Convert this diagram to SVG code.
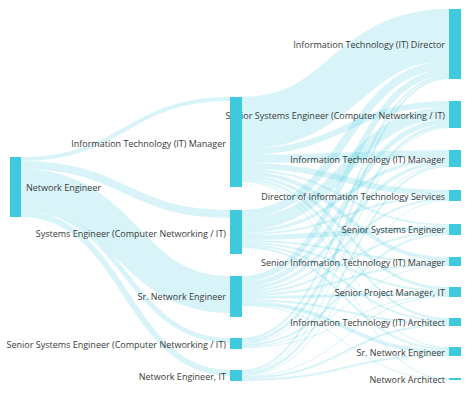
<svg xmlns="http://www.w3.org/2000/svg" width="474" height="399" viewBox="0 0 474 399">
<style>
.l{fill:none;stroke:#3cc8de;stroke-opacity:0.2}
.n{fill:#3ec9dd}
.t{font-family:"Open Sans","DejaVu Sans",sans-serif;font-size:9px;fill:#3a3a3a;dominant-baseline:central}
.e{text-anchor:end}
</style>
<rect width="474" height="399" fill="#ffffff"/>
<g id="links">
<path class="l" stroke-width="4" d="M21,159 C125.5,159 125.5,99 230,99"/>
<path class="l" stroke-width="8" d="M21,165 C125.5,165 125.5,214 230,214"/>
<path class="l" stroke-width="37" d="M21,187.5 C125.5,187.5 125.5,294.5 230,294.5"/>
<path class="l" stroke-width="5" d="M21,208.5 C125.5,208.5 125.5,340.5 230,340.5"/>
<path class="l" stroke-width="6" d="M21,214 C125.5,214 125.5,373 230,373"/>

<path class="l" stroke-width="52" d="M242,123 C345.5,123 345.5,35 449,35"/>
<path class="l" stroke-width="6" d="M242,152 C345.5,152 345.5,104 449,104"/>
<path class="l" stroke-width="8" d="M242,159 C345.5,159 345.5,154 449,154"/>
<path class="l" stroke-width="6" d="M242,166 C345.5,166 345.5,193 449,193"/>
<path class="l" stroke-width="2" d="M242,170 C345.5,170 345.5,225 449,225"/>
<path class="l" stroke-width="4" d="M242,173 C345.5,173 345.5,259 449,259"/>
<path class="l" stroke-width="3" d="M242,176.5 C345.5,176.5 345.5,288.5 449,288.5"/>
<path class="l" stroke-width="2" d="M242,179 C345.5,179 345.5,319 449,319"/>
<path class="l" stroke-width="1" d="M242,180.5 C345.5,180.5 345.5,347.5 449,347.5"/>
<path class="l" stroke-width="1" d="M242,181.5 C345.5,181.5 345.5,378.5 449,378.5"/>

<path class="l" stroke-width="8" d="M242,214 C345.5,214 345.5,65 449,65"/>
<path class="l" stroke-width="12" d="M242,224 C345.5,224 345.5,113 449,113"/>
<path class="l" stroke-width="3" d="M242,231.5 C345.5,231.5 345.5,159.5 449,159.5"/>
<path class="l" stroke-width="2" d="M242,234 C345.5,234 345.5,197 449,197"/>
<path class="l" stroke-width="5" d="M242,237.5 C345.5,237.5 345.5,228.5 449,228.5"/>
<path class="l" stroke-width="2" d="M242,241 C345.5,241 345.5,262 449,262"/>
<path class="l" stroke-width="2" d="M242,243 C345.5,243 345.5,291 449,291"/>
<path class="l" stroke-width="2" d="M242,245 C345.5,245 345.5,321 449,321"/>
<path class="l" stroke-width="2" d="M242,247 C345.5,247 345.5,349 449,349"/>

<path class="l" stroke-width="6" d="M242,279 C345.5,279 345.5,72 449,72"/>
<path class="l" stroke-width="5" d="M242,284.5 C345.5,284.5 345.5,121.5 449,121.5"/>
<path class="l" stroke-width="3" d="M242,288.5 C345.5,288.5 345.5,162.5 449,162.5"/>
<path class="l" stroke-width="2" d="M242,291 C345.5,291 345.5,199 449,199"/>
<path class="l" stroke-width="2" d="M242,293 C345.5,293 345.5,232 449,232"/>
<path class="l" stroke-width="2" d="M242,295 C345.5,295 345.5,264 449,264"/>
<path class="l" stroke-width="3" d="M242,297.5 C345.5,297.5 345.5,293.5 449,293.5"/>
<path class="l" stroke-width="2" d="M242,300 C345.5,300 345.5,323 449,323"/>
<path class="l" stroke-width="4" d="M242,303 C345.5,303 345.5,352 449,352"/>
<path class="l" stroke-width="1" d="M242,305.5 C345.5,305.5 345.5,379.5 449,379.5"/>

<path class="l" stroke-width="2" d="M242,339 C345.5,339 345.5,76 449,76"/>
<path class="l" stroke-width="3" d="M242,341.5 C345.5,341.5 345.5,125.5 449,125.5"/>
<path class="l" stroke-width="1" d="M242,343.5 C345.5,343.5 345.5,164.5 449,164.5"/>
<path class="l" stroke-width="2" d="M242,345 C345.5,345 345.5,234 449,234"/>
<path class="l" stroke-width="1" d="M242,346.5 C345.5,346.5 345.5,265.5 449,265.5"/>
<path class="l" stroke-width="1" d="M242,347.5 C345.5,347.5 345.5,295.5 449,295.5"/>

<path class="l" stroke-width="2" d="M242,371 C345.5,371 345.5,78 449,78"/>
<path class="l" stroke-width="1" d="M242,372.5 C345.5,372.5 345.5,127.5 449,127.5"/>
<path class="l" stroke-width="2" d="M242,374 C345.5,374 345.5,166 449,166"/>
<path class="l" stroke-width="1" d="M242,375.5 C345.5,375.5 345.5,200.5 449,200.5"/>
<path class="l" stroke-width="1" d="M242,376.5 C345.5,376.5 345.5,296.5 449,296.5"/>
<path class="l" stroke-width="2" d="M242,378 C345.5,378 345.5,325 449,325"/>
<path class="l" stroke-width="2" d="M242,380 C345.5,380 345.5,355 449,355"/>
</g>

<g id="t-it-director"><text class="t e" x="445" y="44">Information Technology (IT) Director</text><rect class="n" x="449" y="9" width="12" height="70"/></g>
<g id="t-senior-sys-eng-cn"><text class="t e" x="445" y="115">Senior Systems Engineer (Computer Networking / IT)</text><rect class="n" x="449" y="101" width="12" height="27"/></g>
<g id="t-it-manager"><text class="t e" x="445" y="159">Information Technology (IT) Manager</text><rect class="n" x="449" y="150" width="12" height="17"/></g>
<g id="t-director-its"><text class="t e" x="445" y="196">Director of Information Technology Services</text><rect class="n" x="449" y="190" width="12" height="11"/></g>
<g id="t-senior-sys-eng"><text class="t e" x="445" y="229">Senior Systems Engineer</text><rect class="n" x="449" y="224" width="12" height="11"/></g>
<g id="t-senior-it-manager"><text class="t e" x="445" y="262">Senior Information Technology (IT) Manager</text><rect class="n" x="449" y="257" width="12" height="9"/></g>
<g id="t-senior-pm-it"><text class="t e" x="445" y="292">Senior Project Manager, IT</text><rect class="n" x="449" y="287" width="12" height="10"/></g>
<g id="t-it-architect"><text class="t e" x="445" y="322">Information Technology (IT) Architect</text><rect class="n" x="449" y="318" width="12" height="8"/></g>
<g id="t-sr-network-engineer"><text class="t e" x="445" y="352">Sr. Network Engineer</text><rect class="n" x="449" y="347" width="12" height="9"/></g>
<g id="t-network-architect"><text class="t e" x="445" y="379">Network Architect</text><rect class="n" x="449" y="378" width="12" height="2"/></g>

<g id="m-it-manager"><text class="t e" x="226" y="143">Information Technology (IT) Manager</text><rect class="n" x="230" y="97" width="12" height="90"/></g>
<g id="m-systems-engineer-cn"><text class="t e" x="226" y="233">Systems Engineer (Computer Networking / IT)</text><rect class="n" x="230" y="210" width="12" height="44"/></g>
<g id="m-sr-network-engineer"><text class="t e" x="226" y="296">Sr. Network Engineer</text><rect class="n" x="230" y="276" width="12" height="41"/></g>
<g id="m-senior-sys-eng-cn"><text class="t e" x="226" y="344">Senior Systems Engineer (Computer Networking / IT)</text><rect class="n" x="230" y="338" width="12" height="11"/></g>
<g id="m-network-engineer-it"><text class="t e" x="226" y="376">Network Engineer, IT</text><rect class="n" x="230" y="370" width="12" height="11"/></g>

<g id="s-network-engineer"><rect class="n" x="10" y="157" width="11" height="60"/><text class="t" x="26" y="187">Network Engineer</text></g>
</svg>
